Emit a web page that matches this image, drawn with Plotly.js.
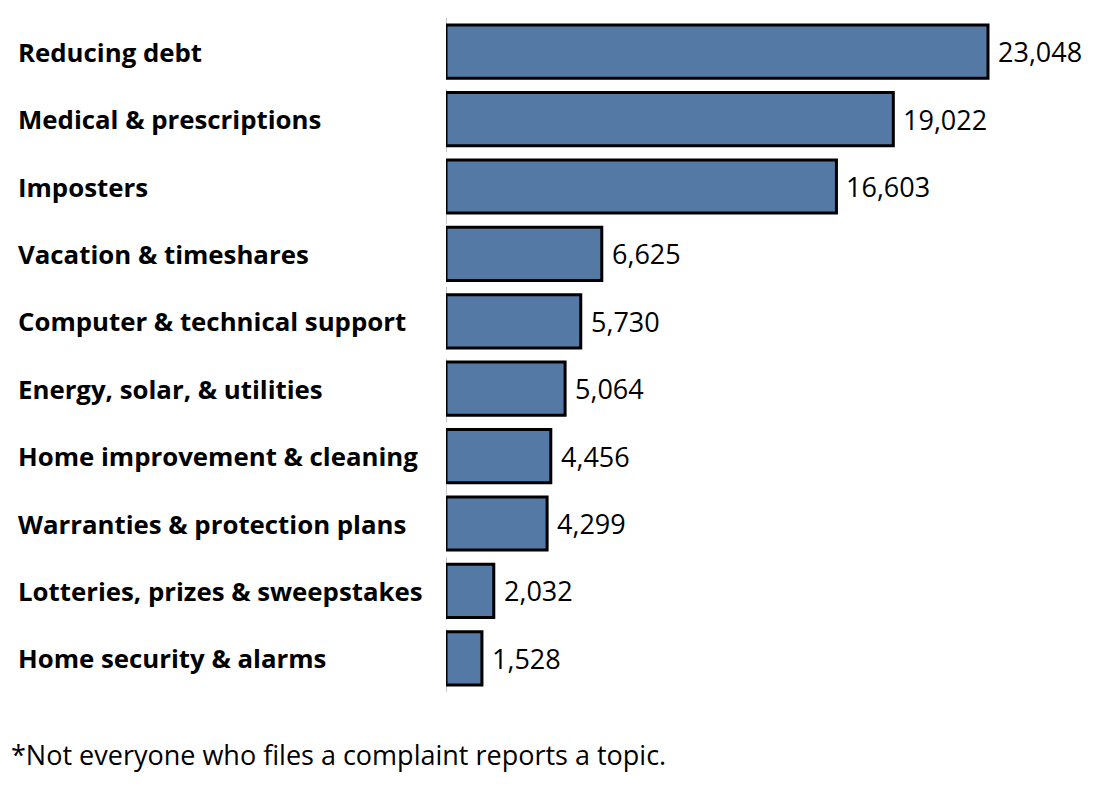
<!DOCTYPE html>
<html>
<head>
<meta charset="utf-8">
<script src="https://cdn.plot.ly/plotly-3.0.1.min.js"></script>
<style>html,body{margin:0;padding:0;background:#fff;}#chart{width:1098px;height:796px;}</style>
</head>
<body>
<div id="chart"></div>
<script>
const categories = [
  "Reducing debt",
  "Medical & prescriptions",
  "Imposters",
  "Vacation & timeshares",
  "Computer & technical support",
  "Energy, solar, & utilities",
  "Home improvement & cleaning",
  "Warranties & protection plans",
  "Lotteries, prizes & sweepstakes",
  "Home security & alarms"
];
const values = [23048, 19022, 16603, 6625, 5730, 5064, 4456, 4299, 2032, 1528];
const footnote = "*Not everyone who files a complaint reports a topic.";

const FONT = "'Open Sans', Lato, sans-serif";
const W = 1098, H = 796, L = 446, R = 30, T = 18, B = 104;
const plotW = W - L - R;

const annotations = [];
categories.forEach((c, i) => {
  annotations.push({
    x: (16 - L) / plotW, xref: 'paper', y: c, yref: 'y',
    text: '<b>' + c + '</b>', showarrow: false, xanchor: 'left', yanchor: 'middle',
    font: {family: FONT, size: 25.8, color: '#000'}
  });
  annotations.push({
    x: values[i], xref: 'x', y: c, yref: 'y',
    text: values[i].toLocaleString('en-US'), showarrow: false, xanchor: 'left', yanchor: 'middle',
    xshift: 8, font: {family: FONT, size: 27, color: '#000'}
  });
});
annotations.push({
  x: (9 - L) / plotW, xref: 'paper', y: 0, yref: 'paper', yshift: -62,
  text: footnote, showarrow: false, xanchor: 'left', yanchor: 'middle',
  font: {family: FONT, size: 27, color: '#000'}
});

const trace = {
  type: 'bar', orientation: 'h', x: values, y: categories,
  marker: {color: '#5479A5', line: {color: '#000', width: 3}},
  hoverinfo: 'none'
};

const layout = {
  width: W, height: H,
  margin: {l: L, r: R, t: T, b: B},
  paper_bgcolor: '#fff', plot_bgcolor: '#fff',
  showlegend: false,
  bargap: 0.21,
  xaxis: {range: [0, plotW / (542 / 23048)], visible: false, fixedrange: true},
  yaxis: {autorange: 'reversed', showticklabels: false, showgrid: false, zeroline: false, showline: false, ticks: ''},
  shapes: [{type: 'line', xref: 'x', x0: 0, x1: 0, yref: 'paper', y0: 0, y1: 1,
            line: {color: '#c8c8c8', width: 2, dash: 'dash'}, layer: 'below'}],
  annotations: annotations
};

Plotly.newPlot('chart', [trace], layout, {displayModeBar: false, staticPlot: true});
</script>
</body>
</html>
